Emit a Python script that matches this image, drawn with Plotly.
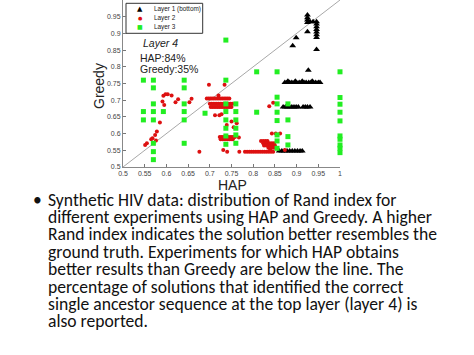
import plotly.graph_objects as go

# ---------------- data ----------------
layer1_hap = [0.925, 0.925, 0.925, 0.925, 0.931, 0.938, 0.946, 0.946, 0.946, 0.946, 0.946, 0.946, 0.946,
              0.925, 0.899, 0.891, 0.946, 0.927,
              0.873, 0.878, 0.884, 0.889, 0.895, 0.900, 0.906, 0.911, 0.917, 0.922, 0.928, 0.933, 0.939, 0.944, 0.950, 0.954,
              0.880, 0.897, 0.913, 0.936,
              0.869, 0.874, 0.879, 0.884, 0.889, 0.894, 0.899, 0.904, 0.915, 0.920, 0.925, 0.931,
              0.860, 0.866, 0.872, 0.878, 0.884, 0.890, 0.896, 0.902, 0.908, 0.913]
layer1_greedy = [0.955, 0.947, 0.940, 0.933, 0.935, 0.935, 0.935, 0.928, 0.920, 0.912, 0.904, 0.896, 0.888,
                 0.905, 0.887, 0.863, 0.852, 0.790,
                 0.753, 0.753, 0.753, 0.753, 0.753, 0.753, 0.753, 0.753, 0.753, 0.753, 0.753, 0.753, 0.753, 0.753, 0.753, 0.753,
                 0.757, 0.757, 0.757, 0.757,
                 0.680, 0.680, 0.680, 0.680, 0.680, 0.680, 0.680, 0.680, 0.680, 0.680, 0.680, 0.680,
                 0.548, 0.548, 0.548, 0.548, 0.548, 0.548, 0.548, 0.548, 0.548, 0.548]

layer2_hap = [0.551, 0.555, 0.565, 0.568, 0.576, 0.574, 0.578, 0.585,
              0.591, 0.595, 0.593, 0.598, 0.603, 0.612, 0.627, 0.621, 0.653, 0.658, 0.676,
              0.698, 0.734, 0.720,
              0.693, 0.697, 0.701, 0.705, 0.709, 0.713, 0.717, 0.721, 0.725, 0.729, 0.733, 0.737, 0.741, 0.745,
              0.700, 0.704, 0.708, 0.712, 0.716, 0.720, 0.724, 0.728, 0.732, 0.736, 0.740, 0.744, 0.748, 0.752,
              0.702, 0.706, 0.710, 0.714, 0.718, 0.722, 0.726, 0.730, 0.734, 0.738, 0.742, 0.746, 0.750,
              0.712, 0.722, 0.727,
              0.739, 0.750, 0.762, 0.755,
              0.723, 0.727, 0.731, 0.735, 0.739, 0.743, 0.747, 0.751, 0.755, 0.758,
              0.725, 0.729, 0.733, 0.737, 0.741, 0.745, 0.749, 0.753, 0.767,
              0.731, 0.740, 0.768,
              0.781, 0.786, 0.791, 0.796, 0.801, 0.806, 0.811, 0.816, 0.821, 0.826, 0.831, 0.836, 0.841, 0.846,
              0.818, 0.823, 0.828, 0.833,
              0.823, 0.828, 0.833, 0.838, 0.843, 0.848,
              0.825, 0.830, 0.835, 0.840, 0.845, 0.850,
              0.835, 0.840, 0.845, 0.850,
              0.846, 0.837, 0.843, 0.852, 0.862, 0.839, 0.873]
layer2_greedy = [0.566, 0.571, 0.583, 0.586, 0.579, 0.596, 0.606, 0.633,
                 0.696, 0.686, 0.713, 0.718, 0.718, 0.714, 0.703, 0.694, 0.694, 0.704, 0.546,
                 0.746, 0.746, 0.714,
                 0.705, 0.705, 0.705, 0.705, 0.705, 0.705, 0.705, 0.705, 0.705, 0.705, 0.705, 0.705, 0.705, 0.705,
                 0.689, 0.689, 0.689, 0.689, 0.689, 0.689, 0.689, 0.689, 0.689, 0.689, 0.689, 0.689, 0.689, 0.689,
                 0.680, 0.680, 0.680, 0.680, 0.680, 0.680, 0.680, 0.680, 0.680, 0.680, 0.680, 0.680, 0.680,
                 0.655, 0.655, 0.658,
                 0.626, 0.636, 0.631, 0.619,
                 0.590, 0.590, 0.590, 0.590, 0.590, 0.590, 0.590, 0.590, 0.590, 0.590,
                 0.583, 0.583, 0.583, 0.583, 0.583, 0.583, 0.583, 0.583, 0.588,
                 0.551, 0.546, 0.546,
                 0.546, 0.546, 0.546, 0.546, 0.546, 0.546, 0.546, 0.546, 0.546, 0.546, 0.546, 0.546, 0.546, 0.546,
                 0.578, 0.578, 0.578, 0.578,
                 0.571, 0.571, 0.571, 0.571, 0.571, 0.571,
                 0.564, 0.564, 0.564, 0.564, 0.564, 0.564,
                 0.558, 0.558, 0.558, 0.558,
                 0.692, 0.682, 0.600, 0.600, 0.600, 0.551, 0.551]

layer3_hap = [0.547, 0.547, 0.547,
              0.570, 0.570, 0.570, 0.570, 0.570, 0.570, 0.570, 0.570,
              0.593,
              0.641, 0.641, 0.641, 0.641, 0.641, 0.641,
              0.689,
              0.737, 0.737, 0.737, 0.737, 0.737, 0.737, 0.737, 0.737,
              0.760, 0.760, 0.760, 0.760, 0.760, 0.760,
              0.808, 0.808,
              0.855, 0.855, 0.855, 0.855, 0.855, 0.855, 0.855, 0.855,
              0.880, 0.880, 0.880, 0.880,
              1.0, 1.0, 1.0, 1.0, 1.0, 1.0, 1.0, 1.0, 1.0, 1.0]
layer3_greedy = [0.760, 0.666, 0.641,
                 0.760, 0.737, 0.689, 0.666, 0.641, 0.571, 0.546, 0.522,
                 0.666,
                 0.760, 0.737, 0.689, 0.666, 0.641, 0.571,
                 0.661,
                 0.880, 0.760, 0.689, 0.666, 0.641, 0.616, 0.593, 0.568,
                 0.689, 0.666, 0.641, 0.616, 0.596, 0.571,
                 0.785, 0.664,
                 0.785, 0.709, 0.689, 0.664, 0.639, 0.596, 0.578, 0.556,
                 0.689, 0.641, 0.591, 0.566,
                 0.785, 0.708, 0.688, 0.664, 0.638, 0.593, 0.583, 0.566, 0.556, 0.543]

diag = [0.5, 1.0]
tick_vals = [0.5, 0.55, 0.6, 0.65, 0.7, 0.75, 0.8, 0.85, 0.9, 0.95, 1.0]
tick_text = ['0.5', '0.55', '0.6', '0.65', '0.7', '0.75', '0.8', '0.85', '0.9', '0.95', '1']

legend_labels = ['Layer 1 (bottom)', 'Layer 2', 'Layer 3']
note_lines = ['Layer 4', 'HAP:84%', 'Greedy:35%']
caption_lines = [
    'Synthetic HIV data: distribution of Rand index for',
    'different experiments using HAP and Greedy. A higher',
    'Rand index indicates the solution better resembles the',
    'ground truth. Experiments for which HAP obtains',
    'better results than Greedy are below the line. The',
    'percentage of solutions that identified the correct',
    'single ancestor sequence at the top layer (layer 4) is',
    'also reported.',
]

# ---------------- layout geometry ----------------
W, H = 474, 355
PL, PR, PT, PB = 123, 340, 0, 167   # plot area in pixels


def fx(p):
    return (p - PL) / (PR - PL)


def fy(p):
    return (PB - p) / (PB - PT)


AX_FONT = 'Liberation Sans, Arial, sans-serif'

fig = go.Figure()
fig.add_trace(go.Scatter(x=diag, y=diag, mode='lines', line=dict(color='#a8a8a8', width=1),
                         showlegend=False, hoverinfo='skip'))
fig.add_trace(go.Scatter(x=layer1_hap, y=layer1_greedy, mode='markers', name=legend_labels[0],
                         marker=dict(symbol='triangle-up', size=6, color='black'), showlegend=False,
                         cliponaxis=False))
fig.add_trace(go.Scatter(x=layer2_hap, y=layer2_greedy, mode='markers', name=legend_labels[1],
                         marker=dict(symbol='circle', size=4, color='#dd1111'), showlegend=False,
                         cliponaxis=False))
fig.add_trace(go.Scatter(x=layer3_hap, y=layer3_greedy, mode='markers', name=legend_labels[2],
                         marker=dict(symbol='square', size=5, color='#22ee22'), showlegend=False,
                         cliponaxis=False))

axis_common = dict(range=[0.5, 1.0], tickvals=tick_vals, ticktext=tick_text, ticks='inside', ticklen=3,
                   tickcolor='#777', showline=True, linecolor='#888', linewidth=1, showgrid=False,
                   zeroline=False, tickfont=dict(family=AX_FONT, size=7, color='#444'), mirror=False)

annotations = []
# legend (manual)
legend_rows = [9.3, 18.3, 26.9]
glyphs = [('▲', 'black', 7), ('●', '#dd1111', 5), ('■', '#22ee22', 6)]
for lab, yy, (g, col, sz) in zip(legend_labels, legend_rows, glyphs):
    annotations.append(dict(xref='paper', yref='paper', x=fx(140), y=fy(yy), text=g, showarrow=False,
                            xanchor='center', yanchor='middle',
                            font=dict(family='DejaVu Sans', size=sz, color=col)))
    annotations.append(dict(xref='paper', yref='paper', x=fx(152), y=fy(yy), text=lab, showarrow=False,
                            xanchor='left', yanchor='middle',
                            font=dict(family=AX_FONT, size=6.4, color='#222')))
# Layer 4 notes
annotations.append(dict(xref='paper', yref='paper', x=fx(160), y=fy(43), text='<i>' + note_lines[0] + '</i>',
                        showarrow=False, xanchor='center', yanchor='middle',
                        font=dict(family=AX_FONT, size=10.5, color='#222')))
annotations.append(dict(xref='paper', yref='paper', x=fx(137.5), y=fy(57.5), text=note_lines[1],
                        showarrow=False, xanchor='left', yanchor='middle',
                        font=dict(family=AX_FONT, size=10.5, color='#222')))
annotations.append(dict(xref='paper', yref='paper', x=fx(137.5), y=fy(69), text=note_lines[2],
                        showarrow=False, xanchor='left', yanchor='middle',
                        font=dict(family=AX_FONT, size=10.5, color='#222')))
# axis titles
annotations.append(dict(xref='paper', yref='paper', x=fx(99), y=fy(86), text='Greedy', textangle=-90,
                        showarrow=False, xanchor='center', yanchor='middle',
                        font=dict(family=AX_FONT, size=14, color='#222')))
annotations.append(dict(xref='paper', yref='paper', x=fx(232), y=fy(185), text='HAP',
                        showarrow=False, xanchor='center', yanchor='middle',
                        font=dict(family=AX_FONT, size=14, color='#222')))
# caption
CAP_FONT = 'Carlito, Calibri, Lato, sans-serif'
CAP_SIZE = 17.6
cap_top, cap_step = 199.5, 17.4
annotations.append(dict(xref='paper', yref='paper', x=fx(37), y=fy(cap_top), text='•',
                        showarrow=False, xanchor='center', yanchor='middle',
                        font=dict(family=CAP_FONT, size=CAP_SIZE, color='#111')))
for i, line in enumerate(caption_lines):
    annotations.append(dict(xref='paper', yref='paper', x=fx(46), y=fy(cap_top + i * cap_step), text=line,
                            showarrow=False, xanchor='left', yanchor='middle',
                            font=dict(family=CAP_FONT, size=CAP_SIZE, color='#111')))

shapes = [dict(type='rect', xref='paper', yref='paper', x0=fx(126), x1=fx(202.7), y0=fy(33.3), y1=fy(3.3),
               line=dict(color='#333', width=1), fillcolor='white', layer='below')]

fig.update_layout(width=W, height=H, margin=dict(l=PL, r=W - PR, t=PT, b=H - PB),
                  paper_bgcolor='white', plot_bgcolor='white', showlegend=False,
                  xaxis=axis_common, yaxis=axis_common, annotations=annotations, shapes=shapes)

fig.write_html('out.html', config={'displayModeBar': False},
               post_script="document.body.style.margin='0';")
